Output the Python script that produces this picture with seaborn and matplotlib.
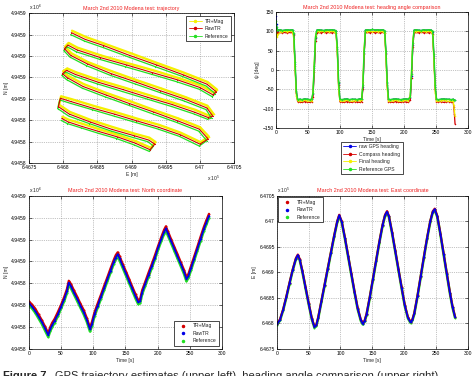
import matplotlib.pyplot as plt
import pandas as pd
import seaborn as sns
from matplotlib.lines import Line2D

# GPS test track, sampled off the figure
time_s = [0, 5, 10, 15, 20, 25, 30, 33, 36, 40, 45, 50, 55, 59, 62, 65, 70, 75, 80, 85, 90, 95,
          98, 102, 107, 112, 117, 122, 127, 132, 135, 138, 141, 146, 151, 156, 161, 166, 170, 173,
          176, 181, 186, 191, 196, 201, 206, 210, 213, 216, 221, 226, 231, 236, 241, 245, 248, 252,
          257, 262, 267, 272, 276, 280]

ref_east = [646797, 646806, 646826, 646851, 646878, 646904, 646926, 646932, 646924, 646902, 646870,
            646838, 646808, 646792, 646795, 646810, 646842, 646874, 646906, 646938, 646970, 646999,
            647010, 646998, 646966, 646931, 646896, 646861, 646828, 646805, 646798, 646804, 646817,
            646850, 646886, 646922, 646958, 646991, 647011, 647017, 647009, 646977, 646941, 646905,
            646869, 646834, 646810, 646801, 646806, 646819, 646853, 646891, 646929, 646966, 646999,
            647018, 647022, 647009, 646974, 646935, 646896, 646858, 646831, 646811]
raw_east = [646798, 646807, 646827, 646852, 646879, 646905, 646927, 646934, 646925, 646903, 646871,
            646839, 646809, 646793, 646796, 646811, 646843, 646875, 646907, 646939, 646971, 647000,
            647012, 646999, 646967, 646932, 646897, 646862, 646829, 646806, 646799, 646805, 646818,
            646851, 646887, 646923, 646959, 646992, 647012, 647019, 647010, 646978, 646942, 646906,
            646870, 646835, 646811, 646802, 646807, 646820, 646854, 646892, 646930, 646967, 647000,
            647019, 647024, 647010, 646975, 646936, 646897, 646859, 646832, 646812]
mag_east = [646799, 646808, 646828, 646853, 646880, 646906, 646928, 646935, 646926, 646904, 646872,
            646840, 646810, 646794, 646797, 646812, 646844, 646876, 646908, 646940, 646972, 647001,
            647013, 647000, 646968, 646933, 646898, 646863, 646830, 646807, 646800, 646806, 646819,
            646852, 646888, 646924, 646960, 646993, 647013, 647020, 647011, 646979, 646943, 646907,
            646871, 646836, 646812, 646803, 646808, 646821, 646855, 646893, 646931, 646968, 647001,
            647020, 647025, 647011, 646976, 646937, 646898, 646860, 646833, 646813]

ref_north = [4945840.0, 4945838.5, 4945836.5, 4945834.0, 4945831.5, 4945828.5, 4945825.5, 4945828.0,
             4945830.0, 4945832.0, 4945835.0, 4945838.5, 4945842.0, 4945845.5, 4945849.5, 4945848.0,
             4945845.0, 4945842.0, 4945839.0, 4945836.0, 4945832.5, 4945828.0, 4945830.5, 4945835.0,
             4945839.0, 4945843.0, 4945847.0, 4945851.0, 4945855.0, 4945859.0, 4945861.0, 4945862.5,
             4945860.5, 4945857.0, 4945853.5, 4945850.0, 4945846.5, 4945843.0, 4945840.5, 4945841.0,
             4945845.0, 4945849.0, 4945853.0, 4945857.0, 4945861.0, 4945865.5, 4945869.5, 4945872.5,
             4945874.3, 4945872.0, 4945868.5, 4945865.0, 4945861.5, 4945858.0, 4945854.5, 4945851.0,
             4945852.5, 4945856.0, 4945860.5, 4945865.0, 4945869.5, 4945874.0, 4945877.0, 4945880.0]
raw_north = [4945840.9, 4945839.3, 4945837.2, 4945834.8, 4945832.3, 4945829.4, 4945826.3, 4945828.9,
             4945830.8, 4945832.9, 4945835.8, 4945839.3, 4945842.9, 4945846.4, 4945850.3, 4945848.8,
             4945845.7, 4945842.9, 4945839.8, 4945836.8, 4945833.3, 4945828.9, 4945831.3, 4945835.9,
             4945839.8, 4945843.9, 4945847.8, 4945851.9, 4945855.8, 4945859.9, 4945861.8, 4945863.3,
             4945861.4, 4945857.8, 4945854.4, 4945850.8, 4945847.4, 4945843.8, 4945841.3, 4945841.9,
             4945845.8, 4945849.9, 4945853.8, 4945857.9, 4945861.8, 4945866.4, 4945870.3, 4945873.4,
             4945875.1, 4945872.9, 4945869.3, 4945865.9, 4945862.3, 4945858.9, 4945855.3, 4945851.9,
             4945853.3, 4945856.9, 4945861.3, 4945865.9, 4945870.3, 4945874.9, 4945877.8, 4945880.9]
mag_north = [4945841.7, 4945840.3, 4945838.4, 4945835.8, 4945833.2, 4945830.3, 4945827.2, 4945829.9,
             4945831.9, 4945833.8, 4945836.9, 4945840.2, 4945843.9, 4945847.3, 4945851.2, 4945849.9,
             4945846.8, 4945843.9, 4945840.8, 4945837.9, 4945834.2, 4945829.8, 4945832.4, 4945836.8,
             4945840.9, 4945844.8, 4945848.9, 4945852.8, 4945856.9, 4945860.8, 4945862.9, 4945864.2,
             4945862.4, 4945858.8, 4945855.4, 4945851.9, 4945848.3, 4945844.9, 4945842.2, 4945842.9,
             4945846.8, 4945850.8, 4945854.9, 4945858.8, 4945862.9, 4945867.2, 4945871.3, 4945874.4,
             4945876.1, 4945873.9, 4945870.3, 4945866.8, 4945863.4, 4945859.8, 4945856.3, 4945852.9,
             4945854.3, 4945857.9, 4945862.3, 4945866.8, 4945871.4, 4945875.8, 4945878.9, 4945881.8]

head_time = [0, 1, 2, 4, 7, 10, 14, 18, 22, 26, 28, 30, 32, 34, 37, 41, 45, 49, 53, 56,
             58, 60, 62, 64, 67, 71, 75, 79, 83, 87, 91, 94, 96, 98, 100, 103, 107, 111, 115, 119,
             123, 127, 131, 134, 136, 138, 140, 143, 147, 151, 155, 159, 163, 167, 170, 172, 174, 176, 179, 183,
             187, 191, 195, 199, 203, 207, 210, 212, 214, 216, 219, 223, 227, 231, 235, 239, 243, 245, 247, 249,
             251, 254, 258, 262, 266, 270, 274, 277, 278, 279, 280]
gps_raw_heading = [140, 118, 106, 103, 104, 102, 103, 104, 103, 104, 92, 15, -58, -77, -76, -77, -75, -76, -77, -76,
                   -62, 5, 82, 103, 104, 103, 102, 104, 103, 104, 103, 101, 55, -35, -76, -77, -76, -75, -77, -76,
                   -76, -77, -75, -76, -45, 45, 103, 104, 103, 105, 103, 104, 103, 104, 101, 45, -35, -76, -77, -76,
                   -75, -76, -77, -76, -75, -76, -72, -15, 65, 103, 104, 103, 102, 104, 103, 104, 103, 98, 35, -45,
                   -76, -77, -76, -75, -76, -76, -77, -76, -77, -78, -79]
compass_heading = [98, 96, 97, 96, 97, 96, 97, 96, 97, 96, 90, 10, -60, -82, -83, -84, -82, -83, -84, -82,
                   -70, -5, 75, 96, 97, 96, 98, 96, 97, 96, 97, 96, 50, -40, -82, -83, -84, -82, -83, -84,
                   -82, -83, -84, -82, -50, 40, 96, 97, 96, 98, 96, 97, 96, 97, 96, 40, -40, -82, -83, -84,
                   -82, -83, -84, -82, -83, -84, -78, -20, 60, 96, 97, 96, 98, 96, 97, 96, 97, 92, 30, -50,
                   -82, -83, -82, -84, -83, -82, -83, -84, -95, -115, -140]
final_heading = [110, 92, 85, 92, 98, 99, 100, 99, 100, 99, 80, 0, -68, -80, -80, -81, -79, -80, -81, -80,
                 -55, 20, 90, 100, 99, 100, 99, 100, 99, 100, 99, 95, 40, -50, -80, -81, -80, -79, -80, -81,
                 -80, -79, -80, -78, -30, 60, 100, 99, 100, 99, 100, 99, 100, 99, 95, 30, -50, -80, -81, -80,
                 -79, -80, -81, -80, -79, -80, -65, 0, 80, 100, 99, 100, 99, 100, 99, 100, 99, 90, 20, -60,
                 -80, -81, -80, -79, -80, -81, -80, -81, -90, -105, -120]
ref_gps_heading = [128, 112, 104, 103, 104, 102, 103, 104, 103, 104, 95, 20, -55, -77, -76, -77, -75, -76, -77, -76,
                   -60, 10, 85, 103, 104, 103, 102, 104, 103, 104, 103, 102, 60, -30, -76, -77, -76, -75, -77, -76,
                   -76, -77, -75, -76, -40, 50, 103, 104, 103, 105, 103, 104, 103, 104, 102, 50, -30, -76, -77, -76,
                   -75, -76, -77, -76, -75, -76, -70, -10, 70, 103, 104, 103, 102, 104, 103, 104, 103, 100, 40, -40,
                   -76, -77, -76, -75, -76, -76, -77, -76, -77, -78, -79]

east_ticks = [646750, 646800, 646850, 646900, 646950, 647000, 647050]
east_tick_labels = ["6.4675", "6.468", "6.4685", "6.469", "6.4695", "6.47", "6.4705"]
north_ticks = [4945820, 4945830, 4945840, 4945850, 4945860, 4945870, 4945880, 4945890]
north_labels_traj = ["4.9458", "4.9458", "4.9458", "4.9459", "4.9459", "4.9459", "4.9459", "4.9459"]
north_labels_time = ["4.9458", "4.9458", "4.9458", "4.9458", "4.9459", "4.9459", "4.9459", "4.9459"]
time_ticks = [0, 50, 100, 150, 200, 250, 300]
heading_ticks = [-150, -100, -50, 0, 50, 100, 150]

YELLOW = "#f5f000"
RED = "#d40000"
GREEN = "#22e022"
BLUE = "#0000e6"
TITLE_RED = "#ee2020"
FS = 3.6

sns.set_theme(style="whitegrid")
plt.rcParams["font.family"] = ["Liberation Sans", "DejaVu Sans"]
plt.rcParams["mathtext.fontset"] = "custom"
plt.rcParams["mathtext.rm"] = "Liberation Sans"

track = pd.DataFrame({
    "t": time_s, "E_ref": ref_east, "E_raw": raw_east, "E_mag": mag_east,
    "N_ref": ref_north, "N_raw": raw_north, "N_mag": mag_north,
})
heading = pd.DataFrame({
    "t": head_time, "raw": gps_raw_heading, "compass": compass_heading,
    "final": final_heading, "ref": ref_gps_heading,
})


def style_axes(ax, title):
    ax.set_facecolor("white")
    for sp in ax.spines.values():
        sp.set_color("black")
        sp.set_linewidth(0.5)
    ax.grid(True, linestyle=":", color="#8a8a8a", linewidth=0.5)
    ax.tick_params(direction="in", length=2, width=0.4, labelsize=FS, pad=1.5,
                   bottom=True, left=True, top=True, right=True, colors="black")
    ax.set_title(title, fontsize=FS + 0.3, color=TITLE_RED, pad=2.5)


def draw(ax, df, x, y, color, lw, ms, sort=True):
    sns.lineplot(data=df, x=x, y=y, sort=sort, estimator=None,
                 color=color, linewidth=lw, marker=".", markersize=ms, markeredgewidth=0,
                 legend=False, ax=ax)


def mat_legend(ax, entries, with_line, **kw):
    handles = [Line2D([], [], color=c, marker=".", markersize=3,
                      linestyle="-" if with_line else "none", linewidth=0.6, label=lab)
               for lab, c in entries]
    leg = ax.legend(handles=handles, fontsize=FS, frameon=True, fancybox=False,
                    edgecolor="black", framealpha=1, borderpad=0.5, labelspacing=0.5,
                    handlelength=2.6, handletextpad=0.6, **kw)
    leg.get_frame().set_linewidth(0.5)
    return leg


fig = plt.figure(figsize=(4.74, 3.76), dpi=100)
fig.patch.set_facecolor("white")

# trajectory
ax1 = fig.add_axes([0.061, 0.566, 0.433, 0.399])
draw(ax1, track, "E_mag", "N_mag", YELLOW, 1.7, 2.4, sort=False)
draw(ax1, track, "E_ref", "N_ref", GREEN, 0.9, 1.8, sort=False)
draw(ax1, track, "E_raw", "N_raw", RED, 0.8, 1.6, sort=False)
ax1.set_xlim(646750, 647050)
ax1.set_ylim(4945820, 4945890)
ax1.set_xticks(east_ticks, east_tick_labels)
ax1.set_yticks(north_ticks, north_labels_traj)
ax1.set_xlabel("E [m]", fontsize=FS, labelpad=1.5)
ax1.set_ylabel("N [m]", fontsize=FS, labelpad=1.5)
style_axes(ax1, "March 2nd 2010 Modena test: trajectory")
ax1.text(0.0, 1.005, "x 10$^6$", transform=ax1.transAxes, fontsize=FS, va="bottom", ha="left")
ax1.text(0.87, -0.1, "x 10$^5$", transform=ax1.transAxes, fontsize=FS, va="center", ha="left")
mat_legend(ax1, [("TR+Mag", YELLOW), ("RawTR", RED), ("Reference", GREEN)], True,
           loc="upper right", borderaxespad=0.6)

# heading
ax2 = fig.add_axes([0.582, 0.660, 0.405, 0.308])
draw(ax2, heading, "t", "raw", BLUE, 0.9, 2.2)
draw(ax2, heading, "t", "compass", RED, 0.9, 2.2)
draw(ax2, heading, "t", "final", YELLOW, 0.9, 2.2)
draw(ax2, heading, "t", "ref", GREEN, 1.1, 2.4)
ax2.set_xlim(0, 300)
ax2.set_ylim(-150, 150)
ax2.set_xticks(time_ticks)
ax2.set_yticks(heading_ticks)
ax2.set_xlabel("Time [s]", fontsize=FS, labelpad=1.5)
ax2.set_ylabel("ψ [deg]", fontsize=FS, labelpad=1.5)
style_axes(ax2, "March 2nd 2010 Modena test: heading angle comparison")
mat_legend(ax2, [("raw GPS heading", BLUE), ("Compass heading", RED),
                 ("Final heading", YELLOW), ("Reference GPS", GREEN)], True,
           loc="upper center", bbox_to_anchor=(0.5, -0.12), borderaxespad=0)

# north coordinate
ax3 = fig.add_axes([0.061, 0.072, 0.407, 0.407])
draw(ax3, track, "t", "N_ref", GREEN, 1.9, 3.0)
draw(ax3, track, "t", "N_mag", RED, 1.6, 2.8)
draw(ax3, track, "t", "N_raw", BLUE, 1.3, 2.5)
ax3.set_xlim(0, 300)
ax3.set_ylim(4945820, 4945890)
ax3.set_xticks(time_ticks)
ax3.set_yticks(north_ticks, north_labels_time)
ax3.set_xlabel("Time [s]", fontsize=FS, labelpad=1.5)
ax3.set_ylabel("N [m]", fontsize=FS, labelpad=1.5)
style_axes(ax3, "March 2nd 2010 Modena test: North coordinate")
ax3.text(0.0, 1.005, "x 10$^6$", transform=ax3.transAxes, fontsize=FS, va="bottom", ha="left")
mat_legend(ax3, [("TR+Mag", RED), ("RawTR", BLUE), ("Reference", GREEN)], False,
           loc="lower right", borderaxespad=0.6)

# east coordinate
ax4 = fig.add_axes([0.584, 0.072, 0.403, 0.407])
draw(ax4, track, "t", "E_ref", GREEN, 1.9, 3.0)
draw(ax4, track, "t", "E_mag", RED, 1.6, 2.8)
draw(ax4, track, "t", "E_raw", BLUE, 1.3, 2.5)
ax4.set_xlim(0, 300)
ax4.set_ylim(646750, 647050)
ax4.set_xticks(time_ticks)
ax4.set_yticks(east_ticks, east_tick_labels)
ax4.set_xlabel("Time [s]", fontsize=FS, labelpad=1.5)
ax4.set_ylabel("E [m]", fontsize=FS, labelpad=1.5)
style_axes(ax4, "March 2nd 2010 Modena test: East coordinate")
ax4.text(0.0, 1.005, "x 10$^5$", transform=ax4.transAxes, fontsize=FS, va="bottom", ha="left")
mat_legend(ax4, [("TR+Mag", RED), ("RawTR", BLUE), ("Reference", GREEN)], False,
           loc="upper left", borderaxespad=0.3)

# caption, cut off at the bottom edge as in the page scan
fig.text(0.006, -0.008, "Figure 7.", fontsize=8, fontweight="bold", va="baseline", ha="left")
fig.text(0.116, -0.008, "GPS trajectory estimates (upper left), heading angle comparison (upper right),",
         fontsize=8, va="baseline", ha="left")

fig.savefig("out.png", dpi=100, facecolor="white")
